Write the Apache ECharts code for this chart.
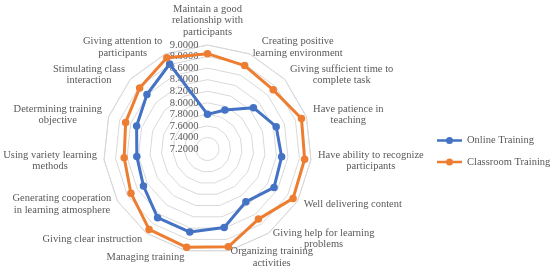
<!DOCTYPE html>
<html>
<head>
<meta charset="utf-8">
<script src="https://cdn.jsdelivr.net/npm/echarts@6/dist/echarts.min.js"></script>
<style>
html,body{margin:0;padding:0;background:#fff;}
#chart{width:550px;height:274px;}
</style>
</head>
<body>
<div id="chart"></div>
<script>
var categories = [
  "Maintain a good\nrelationship with\nparticipants",
  "Creating positive\nlearning environment",
  "Giving sufficient time to\ncomplete task",
  "Have patience in\nteaching",
  "Have ability to recognize\nparticipants",
  "Well delivering content",
  "Giving help for learning\nproblems",
  "Organizing training\nactivities",
  "Managing training",
  "Giving clear instruction",
  "Generating cooperation\nin learning atmosphere",
  "Using variety learning\nmethods",
  "Determining training\nobjective",
  "Stimulating class\ninteraction",
  "Giving attention to\nparticipants"
];
var seriesNames = ["Online Training", "Classroom Training"];
var onlineValues = [7.80, 7.94, 8.27, 8.45, 8.49, 8.53, 8.33, 8.59, 8.67, 8.67, 8.48, 8.43, 8.49, 8.61, 8.81];
var classroomValues = [8.85, 8.78, 8.73, 8.91, 8.89, 8.91, 8.70, 8.93, 8.94, 8.92, 8.73, 8.65, 8.69, 8.78, 8.93];
var axisMin = 7.2, axisMax = 9.0, axisSplits = 9;

var FONT = "Liberation Serif";
var TXT = "#595959";
var colors = ["#4472C4", "#ED7D31"];

// ECharts radar runs counter-clockwise; reorder (keeping first) so it reads clockwise like the original
function cw(arr) { return [arr[0]].concat(arr.slice(1).reverse()); }

var indicators = cw(categories).map(function (c, i) {
  var ind = { name: c, min: axisMin, max: axisMax };
  if (i === 0) {
    ind.axisLabel = {
      show: true,
      formatter: function (v) { return Number(v).toFixed(4); },
      color: TXT, fontFamily: FONT, fontSize: 10.5, margin: 9
    };
  }
  return ind;
});

var chart = echarts.init(document.getElementById('chart'), null, { renderer: 'canvas' });
chart.setOption({
  animation: false,
  color: colors,
  textStyle: { fontFamily: FONT },
  legend: {
    orient: 'vertical',
    left: 432,
    top: 130,
    itemWidth: 25,
    itemHeight: 8,
    itemGap: 10.5,
    icon: 'path://M0,2.75H25V5.25H0Z M9,4a3.5,3.5 0 1,1 7,0a3.5,3.5 0 1,1 -7,0Z',
    textStyle: { color: TXT, fontFamily: FONT, fontSize: 10.5 },
    data: seriesNames
  },
  radar: {
    center: [207.5, 149],
    radius: 104,
    shape: 'polygon',
    splitNumber: axisSplits,
    startAngle: 90,
    axisName: {
      color: TXT,
      fontFamily: FONT,
      fontSize: 10.5,
      lineHeight: 11.7,
      formatter: function (name) {
        return name.split('\n').map(function (l) { return '{c|' + l + '}'; }).join('\n');
      },
      rich: { c: { align: 'center', color: TXT, fontFamily: FONT, fontSize: 10.5, lineHeight: 11.7 } }
    },
    axisNameGap: 7,
    axisLine: { show: false },
    axisTick: { show: false },
    axisLabel: { show: false },
    splitLine: { lineStyle: { color: '#d9d9d9', width: 1 } },
    splitArea: { show: false },
    indicator: indicators
  },
  series: [{
    type: 'radar',
    symbol: 'circle',
    symbolSize: 7.5,
    data: [
      { name: seriesNames[0], value: cw(onlineValues),
        lineStyle: { color: colors[0], width: 3 }, itemStyle: { color: colors[0] } },
      { name: seriesNames[1], value: cw(classroomValues),
        lineStyle: { color: colors[1], width: 3 }, itemStyle: { color: colors[1] } }
    ]
  }]
});
</script>
</body>
</html>
